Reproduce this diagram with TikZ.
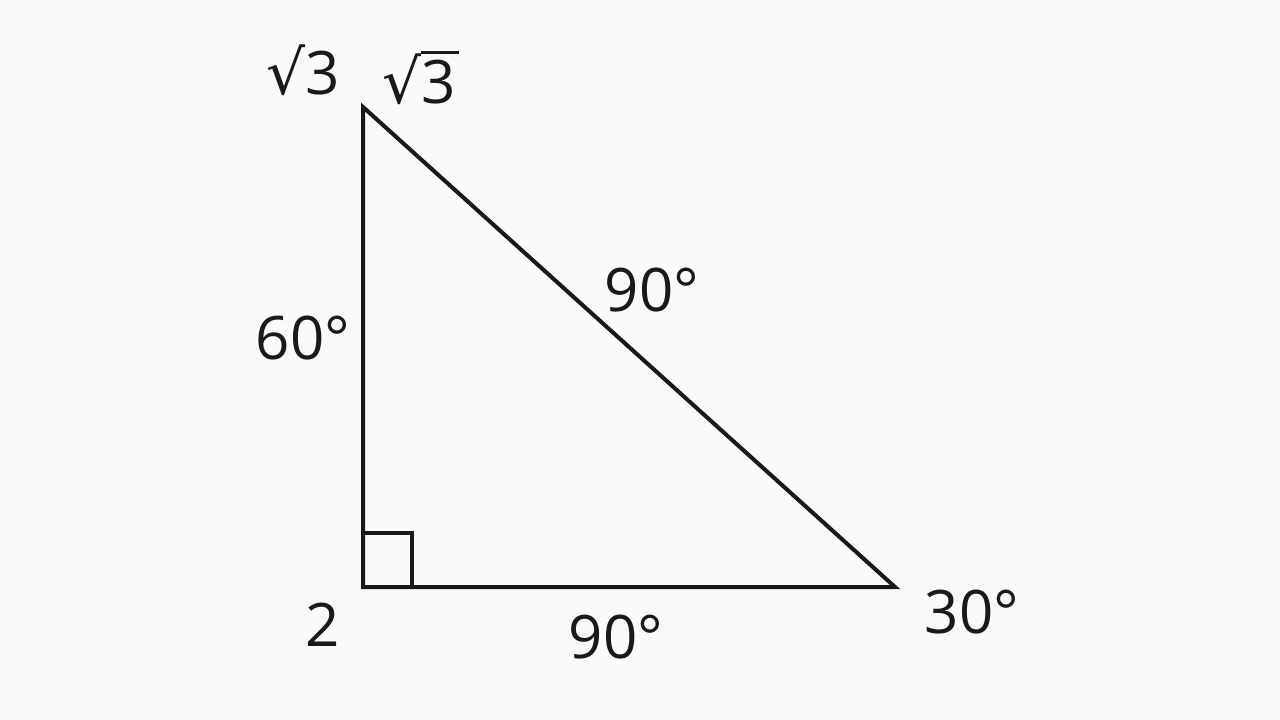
\documentclass[tikz,border=0pt]{standalone}
\usepackage{fontspec}
\setmainfont{Open Sans}
\newfontfamily\symfont{DejaVu Sans}
\begin{document}
\begin{tikzpicture}[x=0.75pt,y=-0.75pt,
  lbl/.style={inner sep=0pt,text=black!90,font=\fontsize{45}{52}\selectfont},
  edge/.style={line width=3pt,draw=black!90,line join=miter}]
\fill[black!2] (0,0) rectangle (1280,720);
\useasboundingbox (0,0) rectangle (1280,720);
\coordinate (A) at (363,107);
\coordinate (B) at (363,587);
\coordinate (C) at (895,587);
\draw[edge] (A) -- (B) -- (C) -- cycle;
\draw[edge,line width=2.6pt] (363,533) -- (412,533) -- (412,587);
\node[lbl] (s1) at (303,70) {{\symfont\fontsize{46}{52}\selectfont √}3};
\node[lbl] (s2) at (419,78) {{\symfont\fontsize{46}{52}\selectfont √}\rlap{\raisebox{37pt}{\rule{28pt}{2.6pt}}}3};
\node[lbl] (a60) at (303,338) {60°};
\node[lbl] (h90) at (652,290) {90°};
\node[lbl] (two) at (323,625) {2};
\node[lbl] (b90) at (616,637) {90°};
\node[lbl] (a30) at (972,612) {30°};
\end{tikzpicture}
\end{document}
